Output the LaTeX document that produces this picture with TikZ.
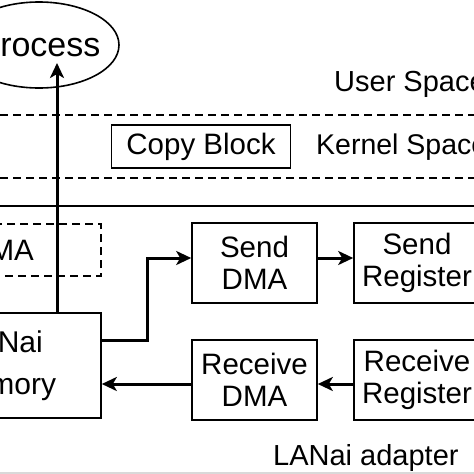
\documentclass[tikz,border=0pt]{standalone}
\usepackage{fontspec}
\setmainfont{Liberation Sans}
\usetikzlibrary{shapes.geometric,arrows.meta}
\tikzset{
  lbl/.style={font=\fontsize{29}{31}\selectfont, inner sep=0pt},
  blk/.style={draw, line width=1.6pt, align=center, inner sep=0pt,
              font=\fontsize{29.5}{32.5}\selectfont},
  dblk/.style={blk, dash pattern=on 8pt off 5pt, line width=1.4pt},
  sep/.style={line width=1.4pt, dash pattern=on 8pt off 5pt},
  flow/.style={line width=3pt, -{Stealth[length=15pt,width=14pt,inset=4pt]}},
}
\begin{document}
\begin{tikzpicture}[x=1pt,y=-1pt]
\useasboundingbox (0,0) rectangle (474,474);
\begin{scope}
\clip (0,0) rectangle (474,474);
% layer separators
\coordinate (l1a) at (0,115); \coordinate (l1b) at (474,115);
\coordinate (l2a) at (0,178); \coordinate (l2b) at (474,178);
\coordinate (l3a) at (0,206); \coordinate (l3b) at (474,206);
\draw[sep] (l1a) -- (l1b);
\draw[sep] (l2a) -- (l2b);
\draw[line width=1.6pt] (l3a) -- (l3b);
\fill[black!15] (0,472) rectangle (474,474);
% process
\node[inner sep=0pt, font=\fontsize{34}{40}\selectfont] (proc) at (39,45) {Process};
\draw[line width=1.6pt] (proc.center) ellipse [x radius=80, y radius=43];
\coordinate (tip) at (57,63);
% labels
\node[lbl, anchor=base west] (user) at (334,91.5) {User Space};
\node[font=\fontsize{28.5}{31}\selectfont, inner sep=0pt, anchor=base west] (kern) at (316,154) {Kernel Space};
\node[lbl, anchor=base west] (adp) at (273,465) {LANai adapter};
% kernel block
\node[blk, minimum width=179pt, minimum height=43pt] (copy) at (201,146.7) {Copy Block};
% host dma (dashed)
\node[dblk, minimum width=200pt, minimum height=52pt] (hdma) at (1,250) {DMA};
% lanai memory
\node[blk, minimum width=198pt, minimum height=105pt,
      font=\fontsize{30}{42}\selectfont] (mem) at (2,365.5) {LANai\\Memory};
% dma engines and registers
\node[blk, minimum width=125pt, minimum height=80pt] (sdma) at (254.5,263) {Send\\DMA};
\node[blk, minimum width=126pt, minimum height=80pt] (sreg) at (417,263) {Send\\Register};
\node[blk, minimum width=125pt, minimum height=80pt] (rdma) at (254.5,380) {Receive\\DMA};
\node[blk, minimum width=126pt, minimum height=80pt] (rreg) at (417,380) {Receive\\Register};
% connectors
\draw[flow] (mem.north -| tip) -- (tip);
\draw[flow] (mem.east |- 0,340) -| (147,258) -- (sdma.west |- 0,258);
\draw[flow] (sdma.east |- 0,258) -- (sreg.west |- 0,258);
\draw[flow] (rreg.west |- 0,384) -- (rdma.east |- 0,384);
\draw[flow] (rdma.west |- 0,384) -- (mem.east |- 0,384);
\end{scope}
\end{tikzpicture}
\end{document}
